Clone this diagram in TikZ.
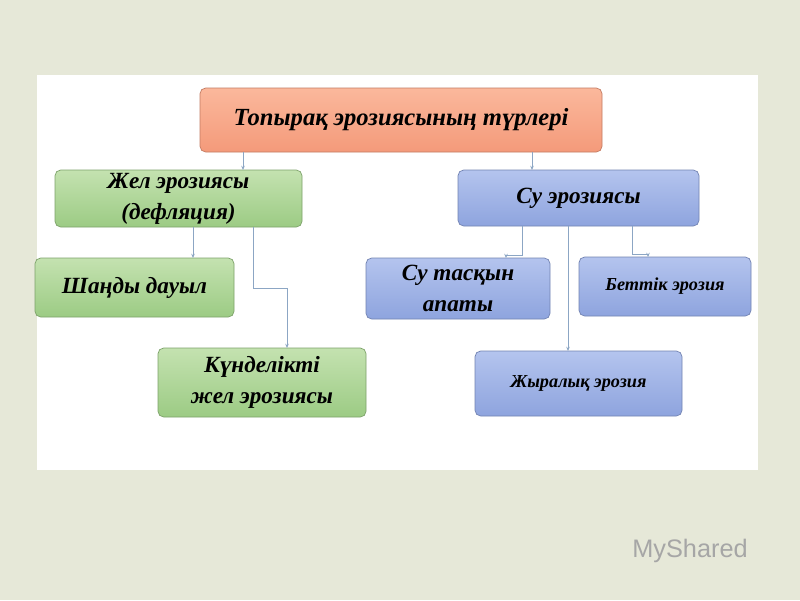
\documentclass[tikz,border=0pt]{standalone}
\usepackage{fontspec}
\setmainfont{Liberation Serif}
\newfontfamily\wmfont{Liberation Sans}
\usetikzlibrary{arrows.meta}
\definecolor{bgc}{HTML}{E6E8D8}
\definecolor{sal1}{HTML}{FBB89C}\definecolor{sal2}{HTML}{F49A7A}
\definecolor{gr1}{HTML}{C4E2B0}\definecolor{gr2}{HTML}{9CCB84}
\definecolor{bl1}{HTML}{B4C4EE}\definecolor{bl2}{HTML}{8EA4DE}
\definecolor{lnc}{HTML}{8CA6C4}
\tikzset{
 bx/.style={rounded corners=4pt,draw=#1!80!black,line width=0.5pt},
 sal/.style={bx=sal2,top color=sal1,bottom color=sal2},
 grn/.style={bx=gr2,top color=gr1,bottom color=gr2},
 blu/.style={bx=bl2,top color=bl1,bottom color=bl2},
 ln/.style={draw=lnc,line width=0.5pt,-{Stealth[length=3pt,width=2.5pt]}},
 big/.style={font=\fontsize{16.5}{22}\selectfont\bfseries\itshape,align=center},
 sml/.style={font=\fontsize{13}{15}\selectfont\bfseries\itshape}
}
\begin{document}
\begin{tikzpicture}[x=0.025cm,y=-0.025cm]
\fill[bgc] (0,0) rectangle (800,600);
\fill[white] (37,75) rectangle (758,470);
\path[sal] (200,88) rectangle (602,152) node[midway,font=\fontsize{17.5}{20}\selectfont\bfseries\itshape] (t) {Топырақ эрозиясының түрлері};
\path[grn] (55,170) rectangle (302,227) node[midway,big] (w) {Жел эрозиясы\\(дефляция)};
\path[blu] (458,170) rectangle (699,226) node[midway,big] (s) {Су эрозиясы};
\path[grn] (35,258) rectangle (234,317) node[midway,big] (sh) {Шаңды дауыл};
\path[blu] (366,258) rectangle (550,319) node[midway,big] (st) {Су тасқын\\апаты};
\path[blu] (579,257) rectangle (751,316) node[midway,sml] (be) {Беттік эрозия};
\path[grn] (158,348) rectangle (366,417) node[midway,big] (ku) {Күнделікті\\жел эрозиясы};
\path[blu] (475,351) rectangle (682,416) node[midway,sml] (zh) {Жыралық эрозия};
\coordinate (a1) at (243,152); \coordinate (a2) at (243,170);
\coordinate (b1) at (532,152); \coordinate (b2) at (532,170);
\coordinate (c1) at (193,227); \coordinate (c2) at (193,258);
\coordinate (d1) at (253,227); \coordinate (d2) at (287,348);
\coordinate (e1) at (522,226); \coordinate (e2) at (506,258);
\coordinate (f1) at (632,226); \coordinate (f2) at (648,257);
\coordinate (g1) at (568,226); \coordinate (g2) at (568,351);
\draw[ln] (a1) -- (a2);
\draw[ln] (b1) -- (b2);
\draw[ln] (c1) -- (c2);
\draw[ln] (d1) |- (287,288) -- (d2);
\draw[ln] (e1) |- (506,255) -- (e2);
\draw[ln] (f1) |- (648,254) -- (f2);
\draw[ln] (g1) -- (g2);
\node[font=\wmfont\fontsize{18}{20}\selectfont,text=gray!70] (my) at (690,551) {MyShared};
\end{tikzpicture}
\end{document}
